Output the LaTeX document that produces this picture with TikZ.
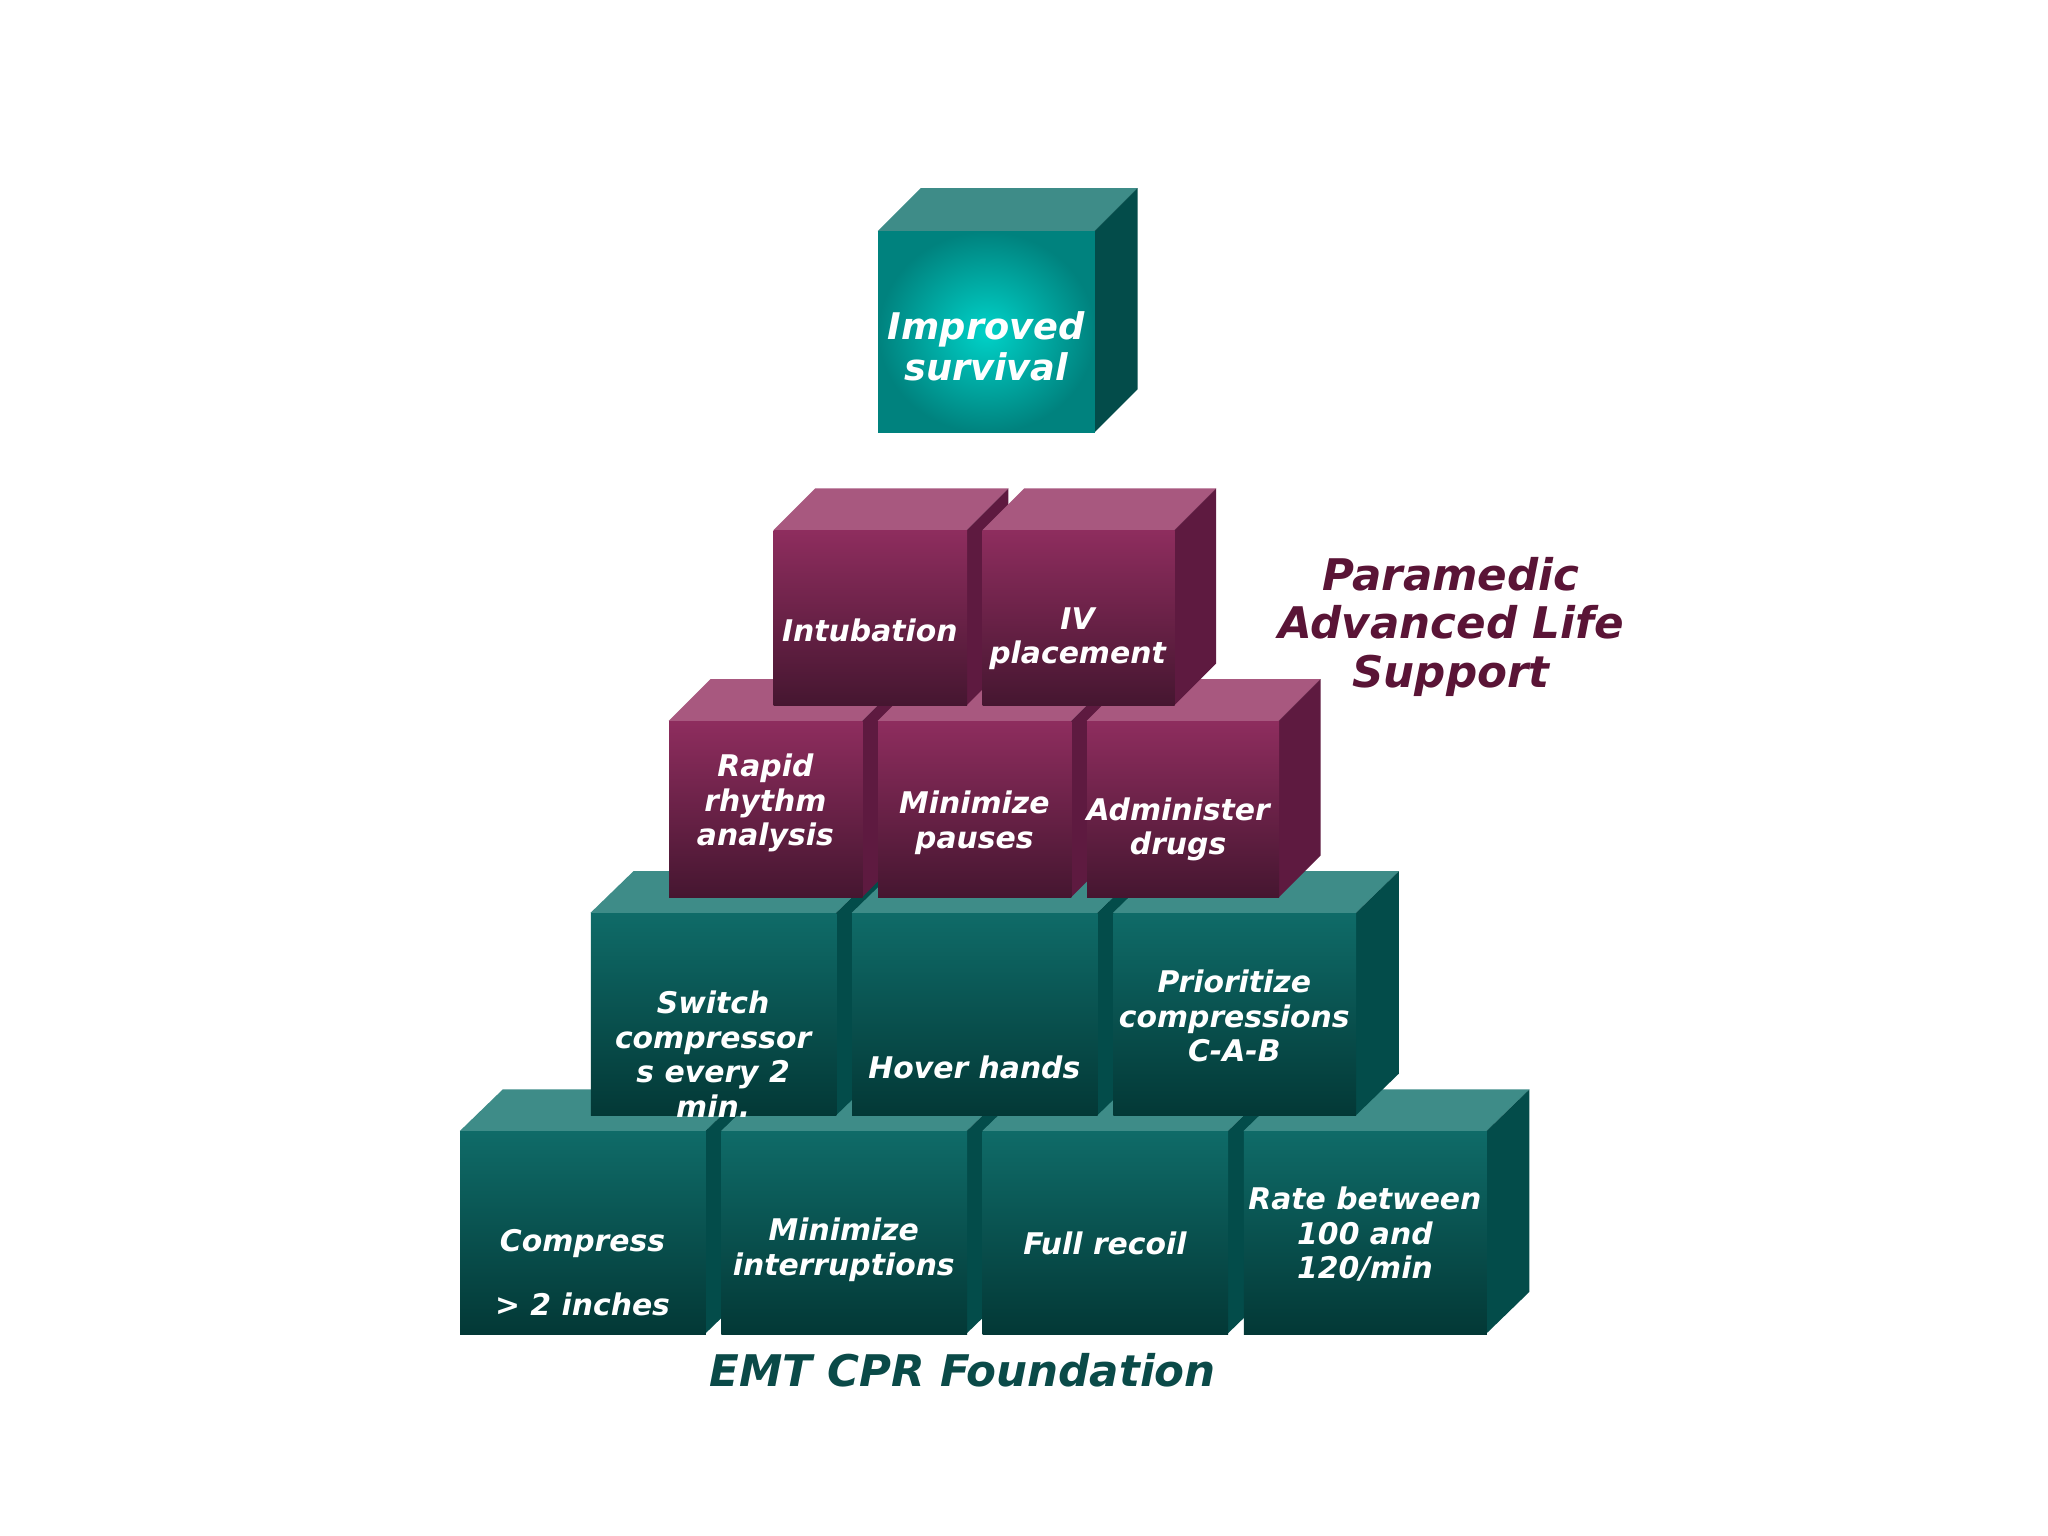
\documentclass[tikz,border=0pt]{standalone}
\usepackage{fontspec}
\setmainfont{DejaVu Sans}
\begin{document}
\begin{tikzpicture}[x=0.02cm,y=-0.02cm,
  lbl/.style={text=white,font=\bfseries\itshape\fontsize{13}{15}\selectfont,align=center},
  ttl/.style={font=\bfseries\itshape\fontsize{19}{21}\selectfont,align=center}]
\definecolor{tfa}{HTML}{0F6B68}\definecolor{tfb}{HTML}{033836}
\definecolor{tto}{HTML}{3E8C88}\definecolor{tsi}{HTML}{034C4A}
\definecolor{mfa}{HTML}{8E2D5E}\definecolor{mfb}{HTML}{451630}
\definecolor{mto}{HTML}{A8587F}\definecolor{msi}{HTML}{5E1A40}
\definecolor{ptl}{HTML}{5A1436}\definecolor{etl}{HTML}{0A4A48}
\useasboundingbox (0,0) rectangle (1568,1176);
% #1 name #2 x #3 y #4 w #5 h #6 prefix (t/m) #7 dx #8 dy
\newcommand\cubebox[8]{%
  \fill[#6to] (#2,#3) -- ++(#7,-#8) -- ++(#4,0) -- ++(-#7,#8) -- cycle;
  \fill[#6si] (#2+#4,#3) -- ++(#7,-#8) -- ++(0,#5) -- ++(-#7,#8) -- cycle;
  \node[anchor=north west,inner sep=0,minimum width=#4*0.02cm,minimum height=#5*0.02cm,
    top color=#6fa,bottom color=#6fb] (#1) at (#2,#3) {};}
% bottom row
\cubebox{b1}{352}{866}{188}{155}{t}{33}{32}
\cubebox{b2}{552}{866}{188}{155}{t}{33}{32}
\cubebox{b3}{752}{866}{188}{155}{t}{33}{32}
\cubebox{b4}{952}{866}{186}{155}{t}{33}{32}
\node[lbl] at (446,952) {Compress};
\node[lbl] at (446,999) {> 2 inches};
\node[lbl] at (646,957) {Minimize\\interruptions};
\node[lbl] at (846,952) {Full recoil};
\node[lbl] at (1045,945) {Rate between\\100 and\\120/min};
% teal row
\cubebox{t1}{452}{699}{188}{155}{t}{33}{32}
\cubebox{t2}{652}{699}{188}{155}{t}{33}{32}
\cubebox{t3}{852}{699}{186}{155}{t}{33}{32}
\node[lbl] at (546,807) {Switch\\compressor\\s every 2\\min.};
\node[lbl] at (746,817) {Hover hands};
\node[lbl] at (945,778) {Prioritize\\compressions\\C-A-B};
% magenta row 2
\cubebox{m1}{512}{552}{148}{135}{m}{32}{32}
\cubebox{m2}{672}{552}{148}{135}{m}{32}{32}
\cubebox{m3}{832}{552}{147}{135}{m}{32}{32}
\node[lbl] at (586,615) {Rapid\\rhythm\\analysis};
\node[lbl] at (746,630) {Minimize\\pauses};
\node[lbl] at (902,635) {Administer\\drugs};
% magenta top
\cubebox{i1}{592}{406}{148}{134}{m}{32}{32}
\cubebox{i2}{752}{406}{147}{134}{m}{32}{32}
\node[lbl] at (666,483) {Intubation};
\node[lbl] at (825,489) {IV\\placement};
% top cube
\fill[tto] (672,177) -- (705,144) -- (871,144) -- (838,177) -- cycle;
\fill[tsi] (838,177) -- (871,144) -- (871,298) -- (838,331) -- cycle;
\node[anchor=north west,inner sep=0,minimum width=3.32cm,minimum height=3.08cm,
  inner color={rgb,255:red,0;green,210;blue,200},outer color={rgb,255:red,0;green,130;blue,126}] (top) at (672,177) {};
\node[lbl,font=\bfseries\itshape\fontsize{16}{18}\selectfont] at (755,265) {Improved\\survival};
% titles
\node[ttl,text=ptl] (pals) at (1111,480) {Paramedic\\Advanced Life\\Support};
\node[ttl,text=etl] (emt) at (737,1049) {EMT CPR Foundation};
\end{tikzpicture}
\end{document}
